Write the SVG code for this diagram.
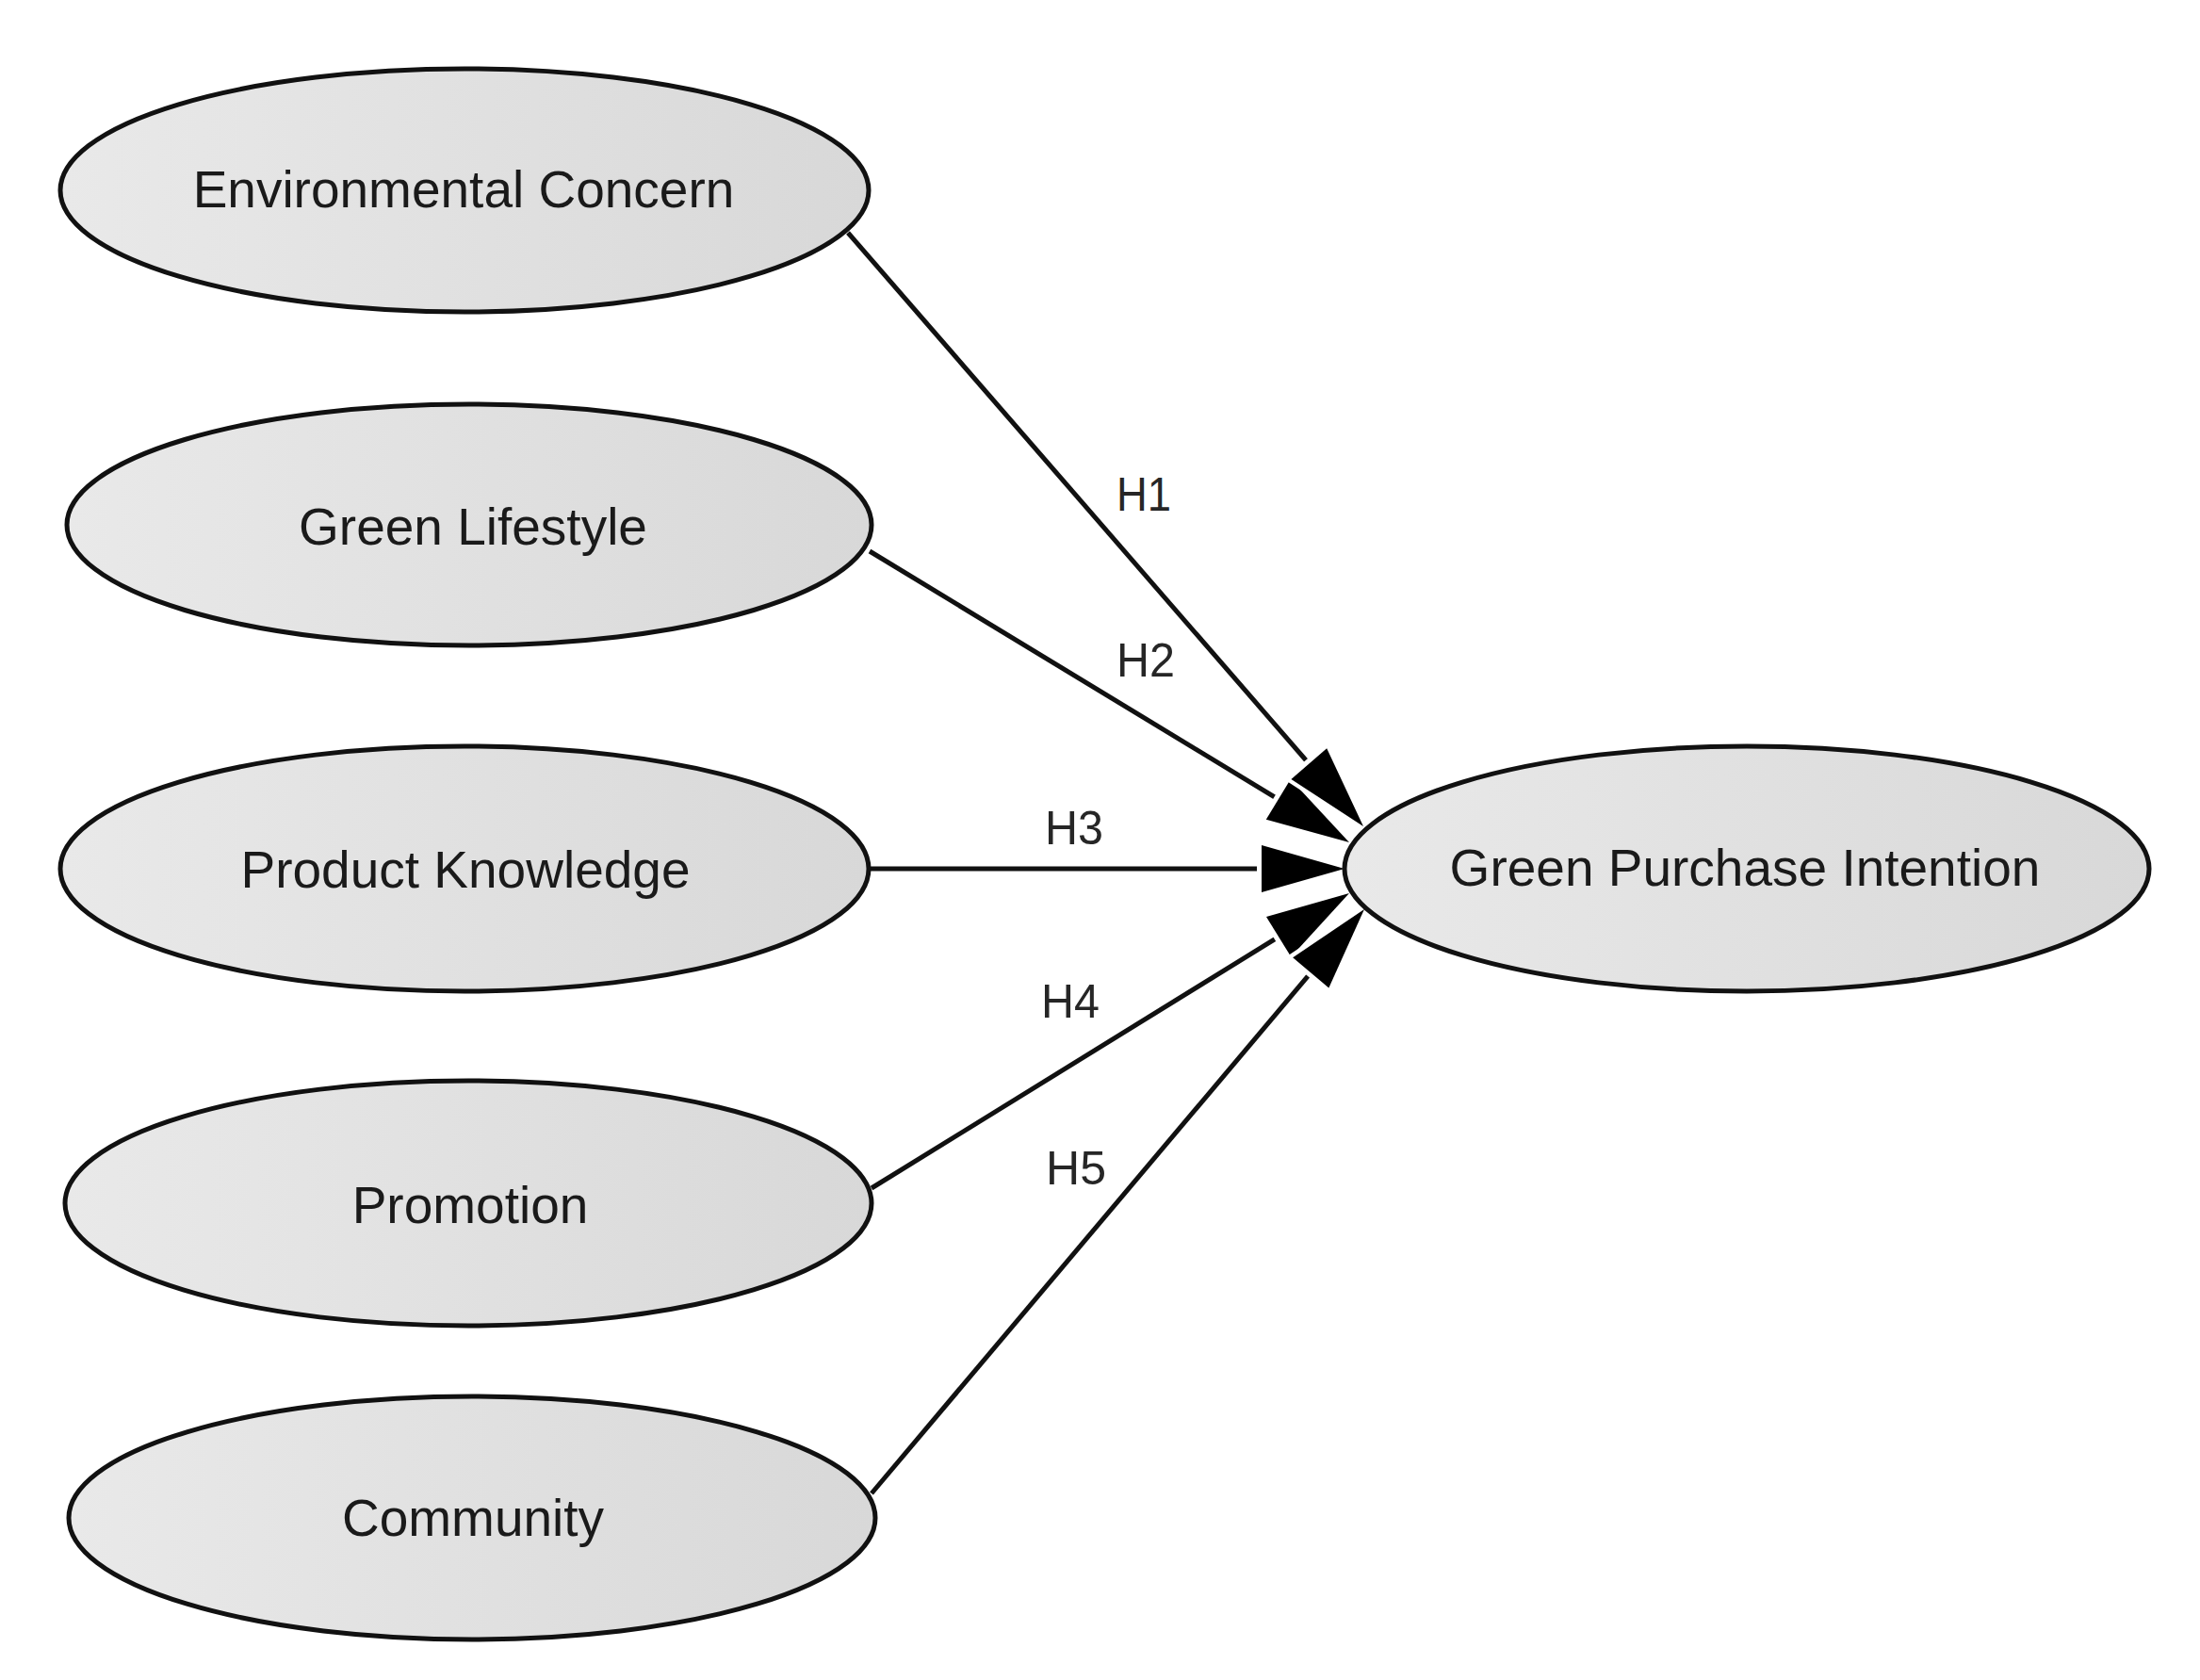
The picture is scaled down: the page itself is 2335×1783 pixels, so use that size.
<svg xmlns="http://www.w3.org/2000/svg" width="2335" height="1783" viewBox="0 0 2335 1783">
  <style>
    .node { fill: url(#nodeFill); stroke: #111; stroke-width: 5; }
    .nlabel { font-family: "Liberation Sans", Arial, sans-serif; font-size: 55px; fill: #1a1a1a; text-anchor: middle; }
    .elabel { font-family: "Liberation Sans", Arial, sans-serif; font-size: 50px; fill: #262626; text-anchor: middle; }
    .edge { stroke: #111; stroke-width: 5; fill: none; marker-end: url(#arrow); }
  </style>
  <defs>
    <linearGradient id="nodeFill" x1="0" y1="0" x2="1" y2="0">
      <stop offset="0" stop-color="#e9e9e9"/>
      <stop offset="1" stop-color="#d8d8d8"/>
    </linearGradient>
    <marker id="arrow" markerUnits="userSpaceOnUse" viewBox="-10 -10 115 70" markerWidth="115" markerHeight="70" refX="88" refY="25" orient="auto" overflow="visible">
      <path d="M-5,-6 L92,22 L92,28 L-5,56 Z" fill="#fff"/>
      <path d="M0,0 L88,25 L0,50 Z" fill="#000"/>
    </marker>
  </defs>
  <rect x="0" y="0" width="2335" height="1783" fill="#fff"/>

  <g id="connectors">
    <line id="e3" class="edge" x1="922" y1="922" x2="1427" y2="922"/>
    <line id="e2" class="edge" x1="923" y1="585" x2="1432" y2="894"/>
    <line id="e4" class="edge" x1="925" y1="1261" x2="1432" y2="948"/>
    <line id="e1" class="edge" x1="900" y1="247" x2="1447" y2="877"/>
    <line id="e5" class="edge" x1="925" y1="1585" x2="1448" y2="965"/>
    <text class="elabel" x="1214" y="542" textLength="58" lengthAdjust="spacingAndGlyphs">H1</text>
    <text class="elabel" x="1216" y="718" textLength="62" lengthAdjust="spacingAndGlyphs">H2</text>
    <text class="elabel" x="1140" y="896" textLength="62" lengthAdjust="spacingAndGlyphs">H3</text>
    <text class="elabel" x="1136" y="1080" textLength="62" lengthAdjust="spacingAndGlyphs">H4</text>
    <text class="elabel" x="1142" y="1257" textLength="64" lengthAdjust="spacingAndGlyphs">H5</text>
  </g>

  <g id="n_env">
    <ellipse class="node" cx="493" cy="202" rx="429" ry="129"/>
    <text class="nlabel" x="492" y="220">Environmental Concern</text>
  </g>
  <g id="n_lifestyle">
    <ellipse class="node" cx="498" cy="557" rx="427" ry="128"/>
    <text class="nlabel" x="502" y="578">Green Lifestyle</text>
  </g>
  <g id="n_knowledge">
    <ellipse class="node" cx="493" cy="922" rx="429" ry="130"/>
    <text class="nlabel" x="494" y="942">Product Knowledge</text>
  </g>
  <g id="n_promotion">
    <ellipse class="node" cx="497" cy="1277" rx="428" ry="130"/>
    <text class="nlabel" x="499" y="1298">Promotion</text>
  </g>
  <g id="n_community">
    <ellipse class="node" cx="501" cy="1611" rx="428" ry="129"/>
    <text class="nlabel" x="502" y="1630">Community</text>
  </g>
  <g id="n_gpi">
    <ellipse class="node" cx="1854" cy="922" rx="427" ry="130"/>
    <text class="nlabel" x="1852" y="940">Green Purchase Intention</text>
  </g>
</svg>
